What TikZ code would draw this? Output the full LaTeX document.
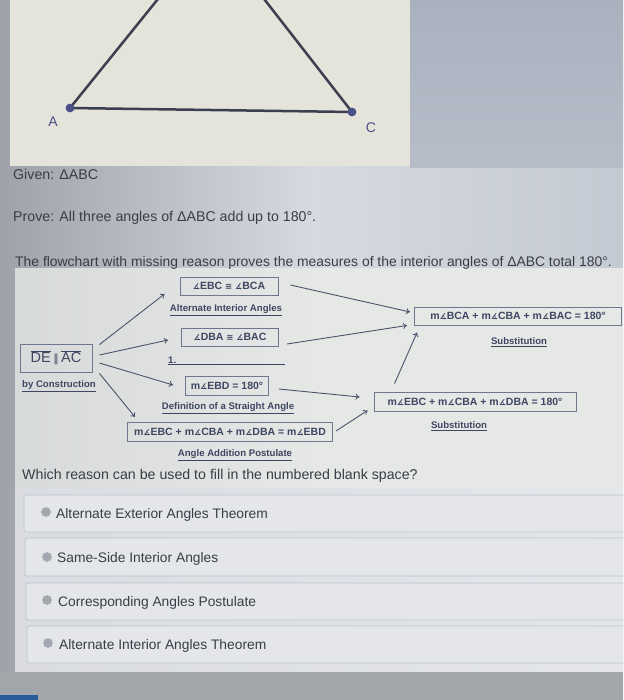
\documentclass[tikz,border=0pt]{standalone}
\usepackage{fontspec}
\setmainfont{Liberation Sans}
\newfontfamily\djv{DejaVu Sans}
\usetikzlibrary{arrows.meta,calc}
\definecolor{bgleft}{HTML}{9EA3AB}
\definecolor{bgmid}{HTML}{D6DAE0}
\definecolor{bgright}{HTML}{C4CAD3}
\definecolor{panelc}{HTML}{E5E4DB}
\definecolor{rightc}{HTML}{A9B1BF}
\definecolor{flowc}{HTML}{E6E8E6}
\definecolor{boxc}{HTML}{6E7690}
\definecolor{txtc}{HTML}{3E4662}
\definecolor{arrc}{HTML}{4C526A}
\definecolor{maintc}{HTML}{3A3D46}
\definecolor{optb}{HTML}{BDC2CC}
\definecolor{optf}{HTML}{E4E6EA}
\definecolor{tric}{HTML}{3C3F50}
\definecolor{dotc}{HTML}{4B4F88}
\definecolor{radioc}{HTML}{A3A7AF}
\definecolor{bottomc}{HTML}{A2A5AA}
\definecolor{bluec}{HTML}{2A5C9C}
\newcommand{\myang}{{\djv\fontsize{8}{9}\selectfont ∡}}
\newcommand{\mycong}{{\djv\fontsize{8.5}{9}\selectfont ≅}}
\begin{document}
\begin{tikzpicture}[x=1pt,y=-1pt,
  box/.style={draw=boxc, line width=0.9pt, inner sep=0pt, text=txtc,
    font=\bfseries\fontsize{10.5}{12}\selectfont},
  lbl/.style={text=txtc, font=\bfseries\fontsize{9.6}{11}\selectfont, inner sep=0pt},
  arr/.style={draw=arrc, line width=0.9pt, -{To[length=4pt,width=6pt]}},
  maintext/.style={text=maintc, font=\fontsize{14.2}{16}\selectfont, inner sep=0pt, anchor=base west},
  opttext/.style={text=maintc, font=\fontsize{13.8}{16}\selectfont, inner sep=0pt, anchor=west},
  optbox/.style={draw=optb, fill=optf, line width=0.8pt, rounded corners=2pt},
  radio/.style={fill=radioc, draw=white!70!radioc, line width=1pt},
]
\useasboundingbox (0,0) rectangle (623,700);
\clip (0,0) rectangle (623,700);
% backgrounds
\shade[left color=bgleft, right color=bgright, middle color=bgmid] (0,0) rectangle (623,700);
\shade[top color=rightc, bottom color=rightc!70!bgmid] (410,0) rectangle (623,168);
\fill[panelc] (10,0) rectangle (410,166);
\shade[left color=flowc!80!bgleft, right color=flowc, middle color=flowc] (15,268) rectangle (623,488);
\shade[left color=optf!85!bgleft, right color=optf] (15,488) rectangle (623,672);
\fill[bottomc] (0,672) rectangle (623,700);
\fill[bluec] (0,695) rectangle (38,700);
% triangle
\coordinate (A) at (70,108);
\coordinate (C) at (352,112);
\coordinate (B) at (212,-68);
\draw[tric, line width=2.5pt, line join=round] (A) -- (B) -- (C) -- cycle;
\fill[dotc] (A) circle (4.4);
\fill[dotc] (C) circle (4.4);
\node[text=dotc, font=\fontsize{14}{16}\selectfont] (la) at (53,122) {A};
\node[text=dotc, font=\fontsize{14}{16}\selectfont] (lc) at (371,128) {C};
% main texts
\node[maintext] (given) at (13,180) {Given: ΔABC};
\node[maintext] (prove) at (13,222) {Prove: All three angles of ΔABC add up to 180°.};
\node[maintext, font=\fontsize{13.9}{16}\selectfont] (intro) at (15,266) {The flowchart with missing reason proves the measures of the interior angles of ΔABC total 180°.};
% flowchart nodes
\node[box, minimum width=98pt, minimum height=18pt] (ebc) at (229,286) {\myang EBC \mycong\ \myang BCA};
\node[lbl] (aia) at (226,310) {\underline{Alternate Interior Angles}};
\node[box, minimum width=97pt, minimum height=18pt] (dba) at (230,337) {\myang DBA \mycong\ \myang BAC};
\node[lbl, anchor=base west] (blank) at (168,363) {\underline{1.\hspace*{109pt}}};
\node[box, minimum width=72pt, minimum height=28pt, font=\fontsize{14.5}{16}\selectfont] (de) at (56,358)
  {$\overline{\mbox{DE}}$\,{\djv\fontsize{11}{12}\selectfont ∥}\,$\overline{\mbox{AC}}$};
\node[lbl] (byc) at (59,386) {\underline{by Construction}};
\node[box, minimum width=83pt, minimum height=19pt] (ebd) at (227,386) {m\myang EBD = 180°};
\node[lbl] (dsa) at (228,408) {\underline{Definition of a Straight Angle}};
\node[box, minimum width=205pt, minimum height=19pt] (sum1) at (230,432)
  {m\myang EBC + m\myang CBA + m\myang DBA = m\myang EBD};
\node[lbl] (aap) at (235,455) {\underline{Angle Addition Postulate}};
\node[box, minimum width=207pt, minimum height=18pt] (fin) at (518,316)
  {m\myang BCA + m\myang CBA + m\myang BAC = 180°};
\node[lbl] (sub1) at (519,342) {\underline{Substitution}};
\node[box, minimum width=202pt, minimum height=19pt] (sum2) at (475,402)
  {m\myang EBC + m\myang CBA + m\myang DBA = 180°};
\node[lbl] (sub2) at (459,426) {\underline{Substitution}};
% arrows
\draw[arr] ($(de.north east)+(7,1)$) -- ($(ebc.west)+(-15,8)$);
\draw[arr] ($(de.east)+(7,-3)$) -- ($(dba.west)+(-13,3)$);
\draw[arr] ($(de.east)+(7,5)$) -- ($(ebd.west)+(-12,-1)$);
\draw[arr] ($(de.south east)+(7,1)$) -- ($(sum1.north west)+(8,-5)$);
\draw[arr] ($(ebc.east)+(12,-1)$) -- ($(fin.west)+(-4,-4)$);
\draw[arr] ($(dba.east)+(8,7)$) -- ($(fin.south west)+(-7,0)$);
\draw[arr] ($(ebd.east)+(10,3)$) -- ($(sum2.west)+(-14,-5)$);
\draw[arr] ($(sum1.east)+(3,-1)$) -- ($(sum2.south west)+(-6,-1.5)$);
\draw[arr] ($(sum2.north west)+(21,-8.5)$) -- ($(fin.south west)+(3,7)$);
% question
\node[maintext] (q) at (22,479) {Which reason can be used to fill in the numbered blank space?};
% options
\draw[optbox] (24,495) rectangle (640,532);
\draw[optbox] (25,538) rectangle (640,576);
\draw[optbox] (26,583) rectangle (640,620);
\draw[optbox] (27,626) rectangle (640,663);
\draw[radio] (46,512) circle (5.5);
\draw[radio] (47,557) circle (5.5);
\draw[radio] (47,600) circle (5.5);
\draw[radio] (48,643) circle (5.5);
\node[opttext] (o1) at (56,515) {Alternate Exterior Angles Theorem};
\node[opttext] (o2) at (57,559) {Same-Side Interior Angles};
\node[opttext] (o3) at (58,603) {Corresponding Angles Postulate};
\node[opttext] (o4) at (59,646) {Alternate Interior Angles Theorem};
\end{tikzpicture}
\end{document}
